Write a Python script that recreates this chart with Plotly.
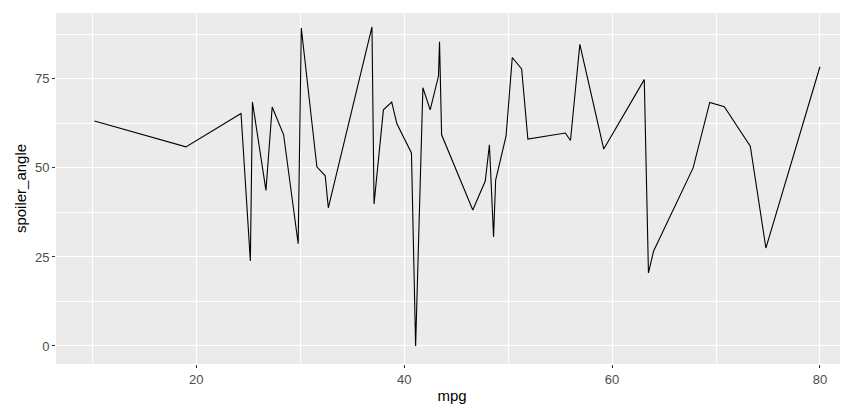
import plotly.graph_objects as go

mpg = [10.2, 19.0, 24.3, 25.2, 25.4, 26.7, 27.3, 28.4, 29.8, 30.1, 31.6, 32.4, 32.7,
       36.9, 37.1, 38.0, 38.8, 39.3, 40.7, 41.1, 41.8, 42.5, 43.3, 43.4, 43.6, 46.6,
       47.8, 48.2, 48.6, 48.8, 49.8, 50.4, 51.3, 51.9, 55.5, 56.0, 56.9, 59.2, 63.1,
       63.5, 64.0, 67.8, 69.4, 70.8, 73.3, 74.8, 80.0]
spoiler_angle = [63.2, 55.9, 65.3, 23.9, 68.5, 43.7, 67.1, 59.3, 28.7, 89.3, 50.3, 47.8, 38.8,
                 89.6, 39.9, 66.3, 68.5, 62.4, 54.2, 0.0, 72.5, 66.3, 75.8, 85.4, 59.3, 38.2,
                 46.3, 56.5, 30.6, 46.6, 58.9, 81.0, 77.8, 58.1, 59.8, 57.7, 84.7, 55.3, 74.8,
                 20.5, 26.7, 50.0, 68.4, 67.2, 56.1, 27.5, 78.4]

fig = go.Figure(go.Scatter(x=mpg, y=spoiler_angle, mode="lines",
                           line=dict(color="black", width=1.1)))
grid = dict(showgrid=True, gridcolor="white", gridwidth=1.1, zeroline=False,
            ticks="outside", ticklen=3, tickcolor="#333333", automargin=False,
            tickfont=dict(family="Liberation Sans", size=13, color="#4d4d4d"),
            minor=dict(showgrid=True, gridcolor="white", gridwidth=0.5))
fig.update_layout(
    width=848, height=406, margin=dict(l=48, r=8, t=5, b=50),
    paper_bgcolor="white", plot_bgcolor="#ebebeb", showlegend=False,
    font=dict(family="Liberation Sans", color="black"),
    xaxis=dict(range=[6.5, 82.7], tickvals=[20, 40, 60, 80],
               minor_tickvals=[10, 30, 50, 70],
               title=dict(text="mpg", font=dict(size=15), standoff=4), **grid),
    yaxis=dict(range=[-5.06, 93.5], tickvals=[0, 25, 50, 75],
               minor_tickvals=[12.5, 37.5, 62.5, 87.5],
               title=dict(text="spoiler_angle", font=dict(size=15), standoff=4), **grid),
)
fig.write_html("out.html")
